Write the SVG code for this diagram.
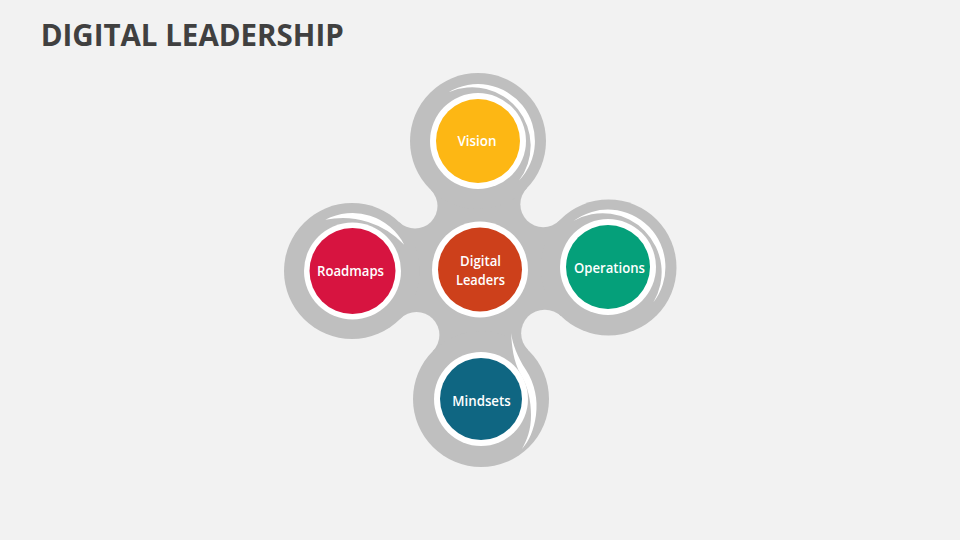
<svg xmlns="http://www.w3.org/2000/svg" width="960" height="540" viewBox="0 0 960 540">
  <defs>
    <style>
      .bg { fill: #f2f2f2; }
      .blob { fill: #bfbfbf; }
      .ring { fill: #ffffff; }
      .swoosh { fill: #ffffff; }
      .label { font-family: "Open Sans", "Liberation Sans", sans-serif; font-weight: 600; font-size: 15px; fill: #ffffff; text-anchor: middle; }
      .title { font-family: "Open Sans", "Liberation Sans", sans-serif; font-weight: 700; font-size: 31px; fill: #404040; }
    </style>
    <mask id="neckMask" maskUnits="userSpaceOnUse" x="0" y="0" width="960" height="540">
      <polygon points="478,141 608.5,267.5 481,399 352,271" fill="#ffffff"/>
      <circle cx="415" cy="206" r="22.5" fill="#000000"/>
      <circle cx="543.25" cy="204.25" r="22.9" fill="#000000"/>
      <circle cx="416.5" cy="335" r="22.9" fill="#000000"/>
      <circle cx="544.75" cy="333.25" r="23.6" fill="#000000"/>
    </mask>
  </defs>

  <rect class="bg" x="0" y="0" width="960" height="540"/>

  <text class="title" x="40.7" y="45.7" textLength="303" lengthAdjust="spacingAndGlyphs">DIGITAL LEADERSHIP</text>

  <g id="backdrop">
    <polygon class="blob" points="478,141 608.5,267.5 481,399 352,271" mask="url(#neckMask)"/>
    <circle class="blob" cx="478" cy="141" r="68"/>
    <circle class="blob" cx="608.5" cy="267.5" r="68"/>
    <circle class="blob" cx="481" cy="399" r="68"/>
    <circle class="blob" cx="352" cy="271" r="68"/>
    <path class="swoosh" d="M448.6,92.2 A57,57 0 0 1 519,180.6 A58.4,58.4 0 0 0 448.6,92.2 Z"/>
    <path class="swoosh" d="M325.3,219.8 A58,58 0 0 1 404.2,244.7 A84.2,84.2 0 0 0 325.3,219.8 Z"/>
    <path class="swoosh" d="M573.4,221.1 A57.5,57.5 0 0 1 653.3,302.4 A58.9,58.9 0 0 0 573.4,221.1 Z"/>
    <path class="swoosh" d="M511,333 C513,345 517,356 526,370 C535,384 538,400 536,415 C534,430 529,441 522,449 C527,440 531,430 531,415 C531,401 528,387 521,375 C513,361 512,346 511,333 Z"/>
  </g>

  <g id="vision">
    <circle class="ring" cx="478" cy="141" r="48"/>
    <circle cx="478" cy="141" r="42" fill="#fdb714"/>
    <text class="label" x="477" y="145.5" textLength="39" lengthAdjust="spacingAndGlyphs">Vision</text>
  </g>

  <g id="roadmaps">
    <circle class="ring" cx="352.5" cy="271" r="48.5"/>
    <circle cx="352.5" cy="271" r="43" fill="#d71440"/>
    <text class="label" x="350.5" y="276" textLength="67" lengthAdjust="spacingAndGlyphs">Roadmaps</text>
  </g>

  <g id="digital-leaders">
    <circle class="ring" cx="480" cy="269.5" r="48"/>
    <circle cx="480" cy="269.5" r="42" fill="#cd401b"/>
    <text class="label" x="480.5" y="266" textLength="41" lengthAdjust="spacingAndGlyphs">Digital</text>
    <text class="label" x="480.5" y="285" textLength="49" lengthAdjust="spacingAndGlyphs">Leaders</text>
  </g>

  <g id="operations">
    <circle class="ring" cx="608" cy="267" r="48"/>
    <circle cx="608" cy="267" r="42" fill="#05a07a"/>
    <text class="label" x="609.5" y="272.5" textLength="71" lengthAdjust="spacingAndGlyphs">Operations</text>
  </g>

  <g id="mindsets">
    <circle class="ring" cx="481" cy="399" r="47"/>
    <circle cx="481" cy="399" r="41" fill="#0f6682"/>
    <text class="label" x="481.5" y="406" textLength="58.5" lengthAdjust="spacingAndGlyphs">Mindsets</text>
  </g>

  <g id="connectors"></g>
</svg>
